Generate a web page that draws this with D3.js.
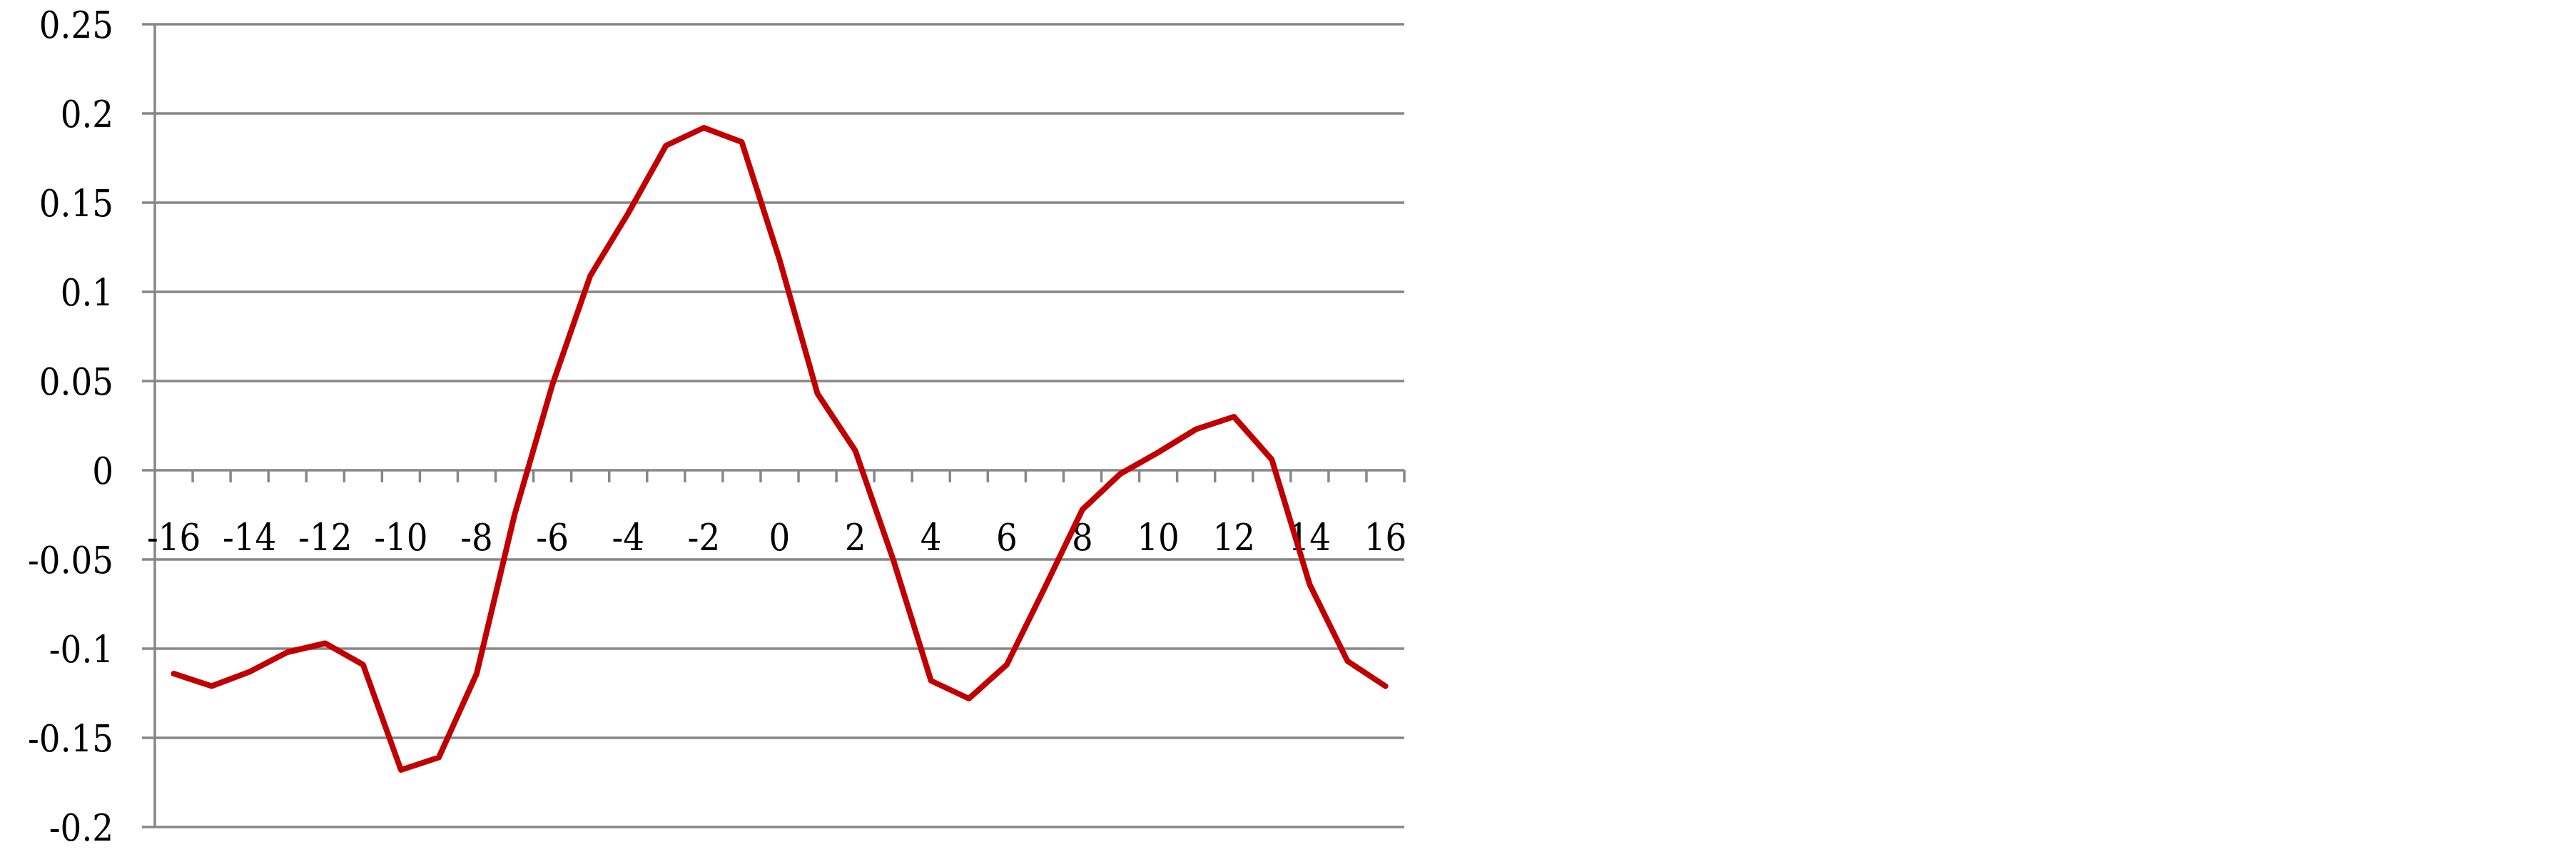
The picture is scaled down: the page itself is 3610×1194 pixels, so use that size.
<!DOCTYPE html>
<html>
<head>
<meta charset="utf-8">
<script src="https://cdn.jsdelivr.net/npm/d3@7"></script>
<style>
  html, body { margin: 0; padding: 0; background: #fff; }
  svg text { font-family: "DejaVu Serif", serif; font-stretch: condensed; fill: #000; }
</style>
</head>
<body>
<script>
// categories along the x axis
const categories = [-16, -15, -14, -13, -12, -11, -10, -9, -8, -7, -6, -5, -4, -3, -2, -1,
  0, 1, 2, 3, 4, 5, 6, 7, 8, 9, 10, 11, 12, 13, 14, 15, 16];

// series values
const values = [-0.114, -0.121, -0.113, -0.102, -0.097, -0.109, -0.168, -0.161, -0.114, -0.025,
  0.048, 0.109, 0.144, 0.182, 0.192, 0.184, 0.118, 0.043, 0.011, -0.050, -0.118, -0.128,
  -0.109, -0.066, -0.022, -0.002, 0.010, 0.023, 0.030, 0.006, -0.064, -0.107, -0.121];

// y tick values and their labels
const yTicks = [0.25, 0.2, 0.15, 0.1, 0.05, 0, -0.05, -0.1, -0.15, -0.2];
const yLabels = ["0.25", "0.2", "0.15", "0.1", "0.05", "0", "-0.05", "-0.1", "-0.15", "-0.2"];

// x labels shown every second category
const xLabels = ["-16", "-14", "-12", "-10", "-8", "-6", "-4", "-2", "0", "2", "4", "6", "8",
  "10", "12", "14", "16"];

const W = 3610, H = 1194;
const margin = { top: 34, left: 217, right: W - 1968, bottom: H - 1159 };
const width = W - margin.left - margin.right,
  height = H - margin.top - margin.bottom;

const svg = d3.select("body").append("svg")
  .attr("width", W)
  .attr("height", H);

const g = svg.append("g")
  .attr("transform", `translate(${margin.left}, ${margin.top})`);

const x = d3.scaleBand().domain(categories).range([0, width]).padding(0);
const y = d3.scaleLinear().domain([-0.2, 0.25]).range([height, 0]);

const gridColor = "#878787";
const fontSize = 52;

// horizontal gridlines (extend left as outside ticks)
g.append("g")
  .selectAll("line")
  .data(yTicks)
  .join("line")
  .attr("x1", -18)
  .attr("x2", width)
  .attr("y1", d => y(d))
  .attr("y2", d => y(d))
  .attr("stroke", gridColor)
  .attr("stroke-width", 3.5);

// vertical axis line
g.append("line")
  .attr("x1", 0).attr("x2", 0)
  .attr("y1", 0).attr("y2", height)
  .attr("stroke", gridColor)
  .attr("stroke-width", 3.5);

// y tick labels
g.append("g")
  .selectAll("text")
  .data(yTicks)
  .join("text")
  .attr("x", -58)
  .attr("y", d => y(d))
  .attr("dy", "0.37em")
  .attr("text-anchor", "end")
  .style("font-size", fontSize + "px")
  .text((d, i) => yLabels[i]);

// category boundary ticks on the zero line
const bounds = categories.slice(1).map(c => x(c)).concat([x.range()[1]]);
g.append("g")
  .selectAll("line")
  .data(bounds)
  .join("line")
  .attr("x1", d => d).attr("x2", d => d)
  .attr("y1", y(0)).attr("y2", y(0) + 17)
  .attr("stroke", gridColor)
  .attr("stroke-width", 3.5);

// x labels
g.append("g")
  .selectAll("text")
  .data(xLabels)
  .join("text")
  .attr("x", d => x(+d) + x.bandwidth() / 2)
  .attr("y", y(0) + 112)
  .attr("text-anchor", "middle")
  .style("font-size", fontSize + "px")
  .text(d => d);

// the series line
const line = d3.line()
  .x((d, i) => x(categories[i]) + x.bandwidth() / 2)
  .y(d => y(d));

g.append("path")
  .datum(values)
  .attr("fill", "none")
  .attr("stroke", "#C00000")
  .attr("stroke-width", 8)
  .attr("stroke-linejoin", "round")
  .attr("stroke-linecap", "round")
  .attr("d", line);
</script>
</body>
</html>
